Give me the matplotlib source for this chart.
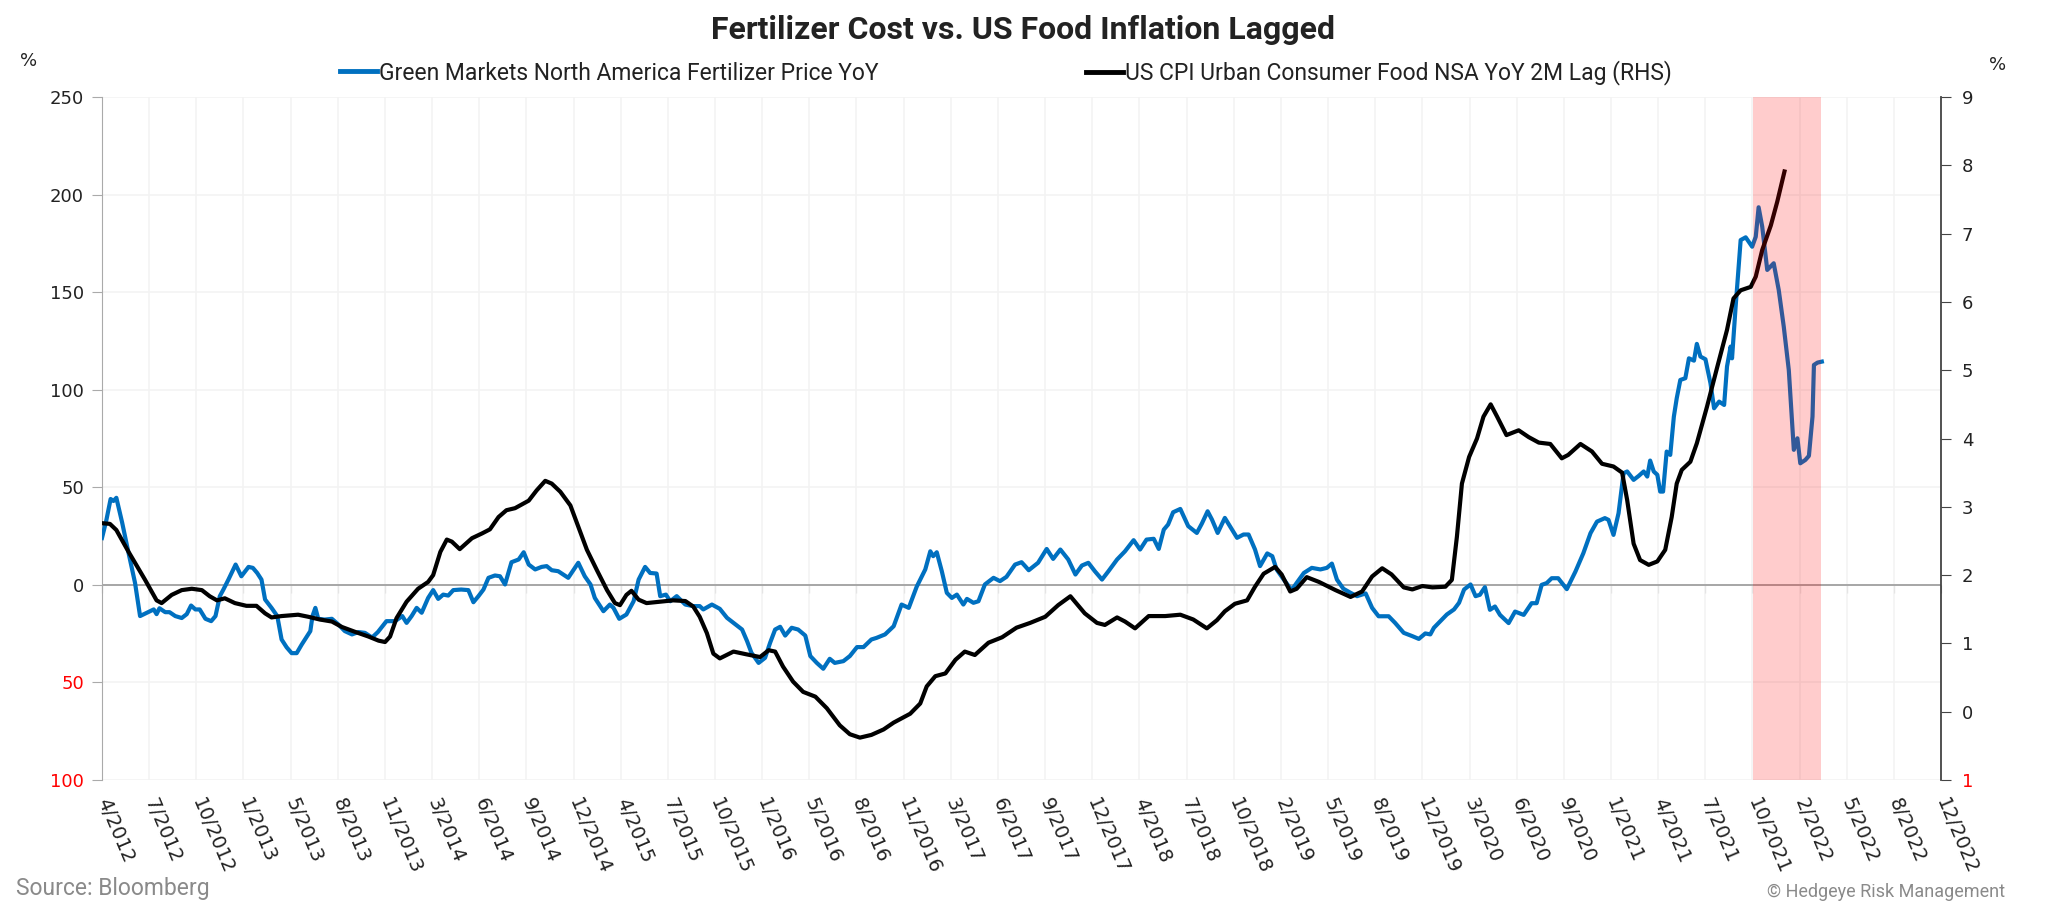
import matplotlib.pyplot as plt
import numpy as np

# x values are months since April 2012
tick_labels = ['4/2012', '7/2012', '10/2012', '1/2013', '5/2013', '8/2013', '11/2013',
               '3/2014', '6/2014', '9/2014', '12/2014', '4/2015', '7/2015', '10/2015',
               '1/2016', '5/2016', '8/2016', '11/2016', '3/2017', '6/2017', '9/2017',
               '12/2017', '4/2018', '7/2018', '10/2018', '2/2019', '5/2019', '8/2019',
               '12/2019', '3/2020', '6/2020', '9/2020', '1/2021', '4/2021', '7/2021',
               '10/2021', '2/2022', '5/2022', '8/2022', '12/2022']

fert_m = [0.0, 0.3, 0.6, 0.8, 1.0, 1.4, 1.8, 2.3, 2.65, 3.2, 3.6, 3.8, 4.0, 4.4, 4.7, 5.1, 5.55, 5.9,
          6.2, 6.5, 6.8, 7.2, 7.6, 7.9, 8.2, 8.45, 8.8, 9.3, 9.7, 10.2, 10.5, 10.8, 11.1, 11.35, 11.8,
          12.2, 12.5, 12.85, 13.2, 13.55, 13.9, 14.5, 14.65, 14.85, 15.05, 15.5, 16.0, 16.45, 16.9,
          17.4, 17.85, 18.3, 18.8, 19.2, 19.8, 20.4, 20.9, 21.2, 21.55, 21.9, 22.25, 22.7, 23.05,
          23.4, 23.75, 24.1, 24.45, 25.0, 25.5, 25.85, 26.2, 26.55, 26.9, 27.35, 27.7, 28.05, 28.5,
          29.0, 29.35, 29.7, 30.15, 30.6, 30.95, 31.3, 31.75,
          32.45, 33.15, 33.6, 34.0, 34.3, 34.9, 35.35, 35.6, 36.0, 36.5, 37.0, 37.35, 37.8, 38.15,
          38.6, 38.85, 39.25, 39.55, 40.0, 40.6, 41.15, 41.6, 41.85, 42.45, 43.0, 43.5, 43.95, 44.55,
          44.9, 45.2, 45.7, 46.15, 46.5, 46.85, 47.2, 47.55, 48.0, 48.45, 48.95, 49.3, 49.75, 50.2,
          50.65, 51.0, 51.6, 52.05, 52.55, 53.0, 53.55, 53.9, 54.5, 55.1, 55.65, 56.15, 56.7, 57.3,
          57.65, 57.85, 58.1, 58.45, 58.8, 59.15, 59.5, 59.95, 60.2, 60.65, 61.0, 61.45, 62.05, 62.5,
          62.95, 63.55, 64.0,
          64.25, 64.5, 65.15, 65.75, 66.2, 66.7, 67.25, 67.75, 68.2, 68.65, 69.1, 69.6, 70.05, 70.65,
          71.2, 71.8, 72.25, 72.7, 73.2, 73.55, 73.9, 74.2, 74.55, 75.05, 75.6, 76.2, 76.55, 76.95,
          77.25, 77.65, 78.15, 78.5, 79.0, 79.45, 79.8, 80.25, 80.6, 81.1, 81.45, 81.75, 82.25, 82.8,
          83.15, 83.65, 84.2, 84.8, 85.25, 85.6, 85.95, 86.4, 86.9, 87.35, 87.95, 88.4, 88.85, 89.55,
          90.0, 90.6, 91.2, 91.65, 92.1, 92.45, 92.7, 93.15, 93.6, 94.1, 94.45, 94.8, 95.25, 95.6,
          95.9, 96.25, 96.6, 96.95, 97.3, 97.9, 98.35, 98.95, 99.5, 99.85, 100.2, 100.55, 100.9,
          101.35, 101.95, 102.55, 103.1, 103.6, 104.05, 104.6, 104.85, 105.2, 105.55, 105.9, 106.15,
          106.6, 106.95, 107.3, 107.55, 107.75, 108.0, 108.25, 108.45, 108.65, 108.9, 109.15, 109.4,
          109.6, 109.85, 110.2, 110.45, 110.8, 111.0, 111.25, 111.6, 111.95, 112.2, 112.55, 112.9,
          113.1, 113.35, 113.45, 113.7, 114.05, 114.4, 114.85, 115.1, 115.3, 115.55, 115.9, 116.35,
          116.7, 117.05, 117.4, 117.75, 118.0, 118.2, 118.55, 118.8, 119.05, 119.15, 119.4, 119.7]
fert_v = [24, 33, 44, 43, 44.6, 32, 18, 1, -16, -14, -12.6, -15, -12, -14, -14, -16, -17, -15,
          -10.6, -12.6, -12.6, -17.4, -18.6, -16, -5.8, -2.4, 2.7, 10.4, 4.4, 9.2, 8.7, 6.1, 2.7, -7.5, -11.8,
          -16, -28, -32, -35, -35, -30.6, -23.7, -16, -11.8, -17.4, -17.8, -17.4, -20.3, -23.7,
          -25.4, -24.2, -24.6, -27, -24.2, -18.6, -18.6, -16, -19.5, -16, -11.8, -14.3, -6.7, -2.7,
          -7.2, -5, -5.5, -2.7, -2.4, -2.7, -8.9, -5.8, -2.4, 3.6, 4.8, 4.4, 0.2, 11.6,
          13, 16.7, 10.4, 7.9, 9.2, 9.6, 7.5, 7.0,
          3.6, 11.3, 4.4, 0.2, -6.7, -13.5, -10.1, -11.8, -17.4, -15.2, -8.4, 2.7, 9.2, 6.1,
          5.8, -5.8, -5.0, -8.4, -5.8, -10.1, -10.9, -10.9, -12.6, -10.1, -12.3, -16.9, -19.5, -22.9,
          -28.9, -34.8, -40, -37.4, -29.7, -22.9, -21.5, -26, -22, -22.9, -26, -36.5, -40, -43,
          -37.9, -40, -39.1, -36.5, -31.9, -31.9, -28, -27.2, -25.4, -21.2, -10.1, -11.8, -1.0, 7.9,
          17.2, 14.7, 16.7, 7.0, -4.1, -6.7, -5.0, -10.1, -7.2, -9.2, -8.4, 0.2, 3.6, 1.9,
          4.1, 10.4, 11.6,
          9.6, 7.5, 11.3, 18.4, 13.3, 18.1, 13.0, 5.3, 9.9, 11.3, 7.0, 2.7, 7.0, 13.0,
          17.2, 22.9, 18.1, 23.2, 23.6, 18.4, 28.3, 30.9, 37.2, 38.9, 30.1, 26.6, 31.4, 37.7,
          33.5, 26.6, 34.3, 30.1, 24.1, 25.8, 25.8, 18.1, 9.6, 16.1, 14.7, 7.9, 2.7, -2.7,
          1.0, 6.1, 8.7, 7.9, 8.7, 10.9, 2.7, -2.0, -4.1, -5.8, -4.4, -11.8, -16.1, -16.1,
          -19.5, -24.6, -26.3, -27.7, -24.9, -25.4, -22.0, -18.6, -15.2, -12.6, -9.2, -2.4, 0.2, -5.8,
          -5.1, -1.2, -12.8, -11.1, -15.4, -19.6, -13.7, -15.4, -9.4, -9.4, 0, 0.9, 3.4,
          3.4, -2.2, 6.8, 16.2, 26.5, 32.4, 34.2, 33.3, 25.6, 36.7, 57.2, 58.1,
          53.8, 55.8, 58.1, 55.5, 63.7, 58.1, 56.4, 47.8, 47.8, 68.3, 66.6, 86.2,
          95.6, 105.0, 105.9, 116.1, 114.9, 123.5, 117.0, 115.6, 103.3, 90.5, 93.9, 92.2,
          111.9, 122.1, 116.1, 142.6, 176.7, 178.1, 173.3, 178.4, 193.5, 183.6, 161.4, 164.8,
          151.1, 132.3, 110.1, 69.2, 75.1, 62.3, 64.0, 66.1, 86.2, 112.7, 113.9, 114.4]

cpi_m = [0.0, 0.55, 1.0, 1.85, 3.0, 3.8, 4.15, 4.85, 5.55, 6.25, 6.95, 7.5, 8.0, 8.55, 9.25, 10.05,
         10.75, 11.35, 11.8, 12.5, 13.65, 14.35, 15.15, 16.0, 16.7, 17.6, 18.55, 19.25, 19.7, 20.05,
         20.5, 21.2, 22.0, 22.7, 23.05, 23.55, 24.0, 24.35, 24.9, 25.75, 26.45, 27.0, 27.6, 28.15,
         28.75, 29.7, 30.25, 30.85, 31.3, 31.9, 32.6, 33.15, 33.75, 34.45, 35.15, 35.7, 36.05, 36.5,
         36.85, 37.35, 37.9, 38.85, 39.75, 40.6, 41.15, 41.6, 42.1, 42.55, 43.0, 43.95, 44.85, 45.8,
         46.4, 46.85, 47.4, 48.1, 48.8, 49.65, 50.45, 51.35, 52.05, 52.75, 53.55, 54.4, 55.1, 56.25,
         56.95, 57.4, 58.0, 58.7, 59.4, 60.05, 60.75, 61.7, 62.65, 63.65, 64.6, 65.65, 66.55, 67.4,
         68.4, 69.25, 69.8, 70.65, 71.2, 71.9, 72.85, 74.0, 75.05, 75.95, 76.9, 77.6, 78.15, 78.85,
         79.7, 80.25, 80.85, 81.65, 82.1, 82.7, 83.15, 83.85, 84.7, 85.85, 86.9, 87.7, 88.4, 89.1,
         89.75, 90.6, 91.2, 91.9, 92.6, 93.5, 93.95, 94.3, 94.65, 95.15, 95.7, 96.15, 96.65, 97.1,
         97.75, 98.6, 99.3, 100.0, 100.8, 101.6, 102.05, 102.9, 103.7, 104.4, 105.2, 105.8, 106.15,
         106.6, 107.05, 107.65, 108.25, 108.8, 109.25, 109.6, 109.95, 110.55, 111.0, 111.7, 112.4,
         113.1, 113.55, 114.05, 114.75, 115.1, 115.55, 116.15, 116.6, 117.1]
cpi_v = [2.76, 2.75, 2.66, 2.34, 1.93, 1.63, 1.59, 1.71, 1.78, 1.80, 1.78, 1.69, 1.63, 1.66, 1.59, 1.55,
         1.55, 1.44, 1.38, 1.40, 1.42, 1.39, 1.35, 1.32, 1.24, 1.17, 1.10, 1.04, 1.02, 1.10,
         1.37, 1.61, 1.80, 1.90, 2.0, 2.34, 2.52, 2.49, 2.38, 2.54, 2.61, 2.67, 2.85, 2.95,
         2.98, 3.09, 3.24, 3.38, 3.34, 3.22, 3.02, 2.71, 2.37, 2.07, 1.78, 1.59, 1.56, 1.71,
         1.77, 1.64, 1.59, 1.61, 1.63, 1.62, 1.54, 1.39, 1.15, 0.85, 0.78, 0.88, 0.84, 0.80,
         0.90, 0.88, 0.66, 0.44, 0.29, 0.22, 0.05, -0.20, -0.33, -0.38, -0.34, -0.26, -0.16, -0.03,
         0.12, 0.37, 0.52, 0.56, 0.76, 0.88, 0.83, 1.01, 1.09, 1.23, 1.30, 1.39, 1.56, 1.69,
         1.44, 1.30, 1.27, 1.38, 1.32, 1.22, 1.40, 1.40, 1.42, 1.35, 1.22, 1.34, 1.47, 1.58,
         1.63, 1.83, 2.02, 2.12, 2.01, 1.76, 1.80, 1.97, 1.90, 1.78, 1.68, 1.76, 1.98, 2.10,
         2.01, 1.82, 1.79, 1.84, 1.82, 1.83, 1.93, 2.56, 3.34, 3.73, 4.00, 4.32, 4.50, 4.32,
         4.05, 4.12, 4.02, 3.94, 3.92, 3.71, 3.76, 3.92, 3.81, 3.63, 3.59, 3.50, 3.10,
         2.46, 2.22, 2.15, 2.20, 2.37, 2.85, 3.34, 3.54, 3.66, 3.93, 4.46, 5.03,
         5.59, 6.05, 6.17, 6.22, 6.37, 6.76, 7.12, 7.47, 7.91]

shade_start, shade_end = 114.9, 119.65

ticks = np.linspace(0, 128, len(tick_labels))
left_ticks = np.arange(-100, 251, 50)
right_ticks = np.arange(-1, 10, 1)

fig = plt.figure(figsize=(20.48, 9.06), dpi=100)
ax = fig.add_axes([0.0498, 0.1391, 0.898, 0.7538])
ax2 = ax.twinx()

ax.plot(fert_m, fert_v, color='#0070C0', lw=3, solid_joinstyle='round', zorder=3)
ax2.plot(cpi_m, cpi_v, color='black', lw=3, solid_joinstyle='round', zorder=3)
ax2.axvspan(shade_start, shade_end, color='#ff0000', alpha=0.2, lw=0, zorder=5)

ax.set_xlim(0, 128)
ax.set_ylim(-100, 250)
ax2.set_ylim(-1, 9)

ax.set_xticks(ticks)
ax.set_xticklabels(tick_labels, rotation=-67, ha='left', va='center',
                   rotation_mode='anchor', fontsize=14, family='DejaVu Sans', color='#222')
ax.tick_params(axis='x', length=0, pad=14)
ax.grid(axis='both', color='#f3f3f3', lw=1.2, zorder=0)
ax.axhline(0, color='#a0a0a0', lw=1.3, zorder=2)

ax.set_yticks(left_ticks, labels=[f'{abs(v)}' for v in left_ticks])
for v, lab in zip(left_ticks, ax.get_yticklabels()):
    lab.set_color('red' if v < 0 else '#222')
    lab.set_fontsize(13)
ax.tick_params(axis='y', length=7, color='#aaaaaa', pad=6)

ax2.set_yticks(right_ticks, labels=[f'{abs(v)}' for v in right_ticks])
for v, lab in zip(right_ticks, ax2.get_yticklabels()):
    lab.set_color('red' if v < 0 else '#222')
    lab.set_fontsize(13)
ax2.tick_params(axis='y', length=7, color='#444444', pad=8)

for a in (ax, ax2):
    a.spines['top'].set_visible(False)
    a.spines['bottom'].set_visible(False)
ax.spines['left'].set_color('#aaaaaa')
ax.spines['right'].set_visible(False)
ax2.spines['left'].set_visible(False)
ax2.spines['right'].set_color('#444444')
ax2.spines['right'].set_linewidth(1.3)

# small ticks hanging off the zero line
sec = ax.secondary_xaxis(100 / 350)
sec.set_xticks(ticks)
sec.set_xticklabels([])
sec.tick_params(length=6, color='#a0a0a0', direction='out')
for s in sec.spines.values():
    s.set_visible(False)

fig.text(0.4995, 1 - 30 / 906, 'Fertilizer Cost vs. US Food Inflation Lagged', ha='center',
         va='center', fontsize=23, fontweight='bold', family='Roboto', color='#222')

h1, = ax.plot([], [], color='#0070C0', lw=3.5)
h2, = ax.plot([], [], color='black', lw=3.5)
leg1 = fig.legend([h1], ['Green Markets North America Fertilizer Price YoY'], loc='center left',
                  bbox_to_anchor=(340 / 2048, 1 - 73 / 906), frameon=False, handlelength=1.6,
                  handletextpad=0.1, borderpad=0, borderaxespad=0,
                  prop={'family': 'Roboto', 'size': 16.5})
leg2 = fig.legend([h2], ['US CPI Urban Consumer Food NSA YoY 2M Lag (RHS)'], loc='center left',
                  bbox_to_anchor=(1086 / 2048, 1 - 73 / 906), frameon=False, handlelength=1.6,
                  handletextpad=0.1, borderpad=0, borderaxespad=0,
                  prop={'family': 'Roboto', 'size': 16.5})
for lg in (leg1, leg2):
    for t in lg.get_texts():
        t.set_color('#222')

fig.text(29 / 2048, 1 - 61 / 906, '%', ha='center', va='center', fontsize=13, color='#222')
fig.text(1998 / 2048, 1 - 65 / 906, '%', ha='center', va='center', fontsize=13, color='#222')
fig.text(16 / 2048, 1 - 888 / 906, 'Source: Bloomberg', ha='left', va='center',
         fontsize=16.5, family='Roboto', color='#8a8a8a')
fig.text(2005 / 2048, 1 - 892 / 906, '\u00a9 Hedgeye Risk Management', ha='right', va='center',
         fontsize=13, family='Roboto', color='#8a8a8a')

fig.savefig('out.png', dpi=100)
